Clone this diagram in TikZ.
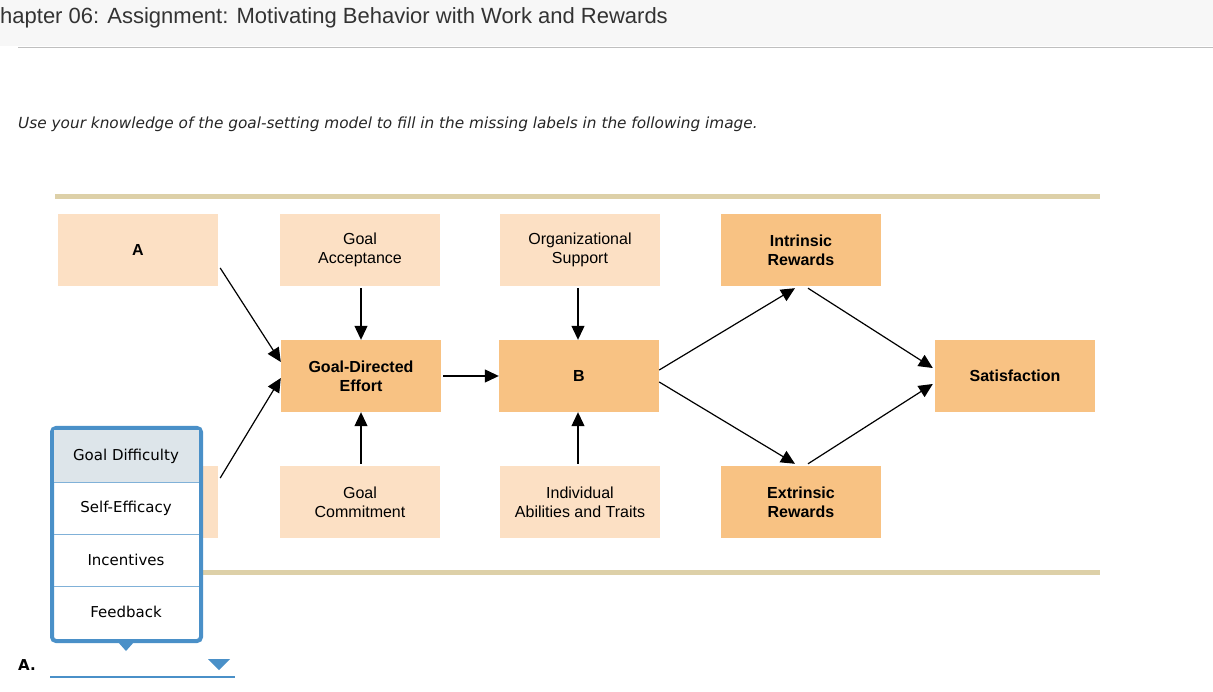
\documentclass[tikz,border=0pt]{standalone}
\usepackage{fontspec}
\setmainfont{Liberation Sans}
\newfontfamily\ver{DejaVu Sans}
\usetikzlibrary{calc,arrows.meta}
\definecolor{lt}{HTML}{FCE0C4}
\definecolor{dk}{HTML}{F8C283}
\definecolor{tan}{HTML}{DDD0A8}
\definecolor{blu}{HTML}{4A90C8}
\definecolor{hil}{HTML}{DDE5EA}
\begin{document}
\begin{tikzpicture}[x=1pt,y=-1pt,
 box/.style={draw=none,minimum width=160pt,minimum height=72pt,inner sep=0pt,align=center,font=\fontsize{16}{19}\selectfont},
 lbox/.style={box,fill=lt},
 dbox/.style={box,fill=dk,font=\fontsize{16}{19}\selectfont\bfseries},
 arr/.style={line width=1.2pt,-{Triangle[length=14pt,width=13pt]}},
 item/.style={font=\ver\fontsize{15}{18}\selectfont}]
\useasboundingbox (0,0) rectangle (1213,692);
\fill[white] (0,0) rectangle (1213,692);
\fill[gray!6] (0,0) rectangle (1213,46);
\draw[gray!50,line width=1pt] (18,48) -- (1213,48);
\node[anchor=west,inner sep=0pt,font=\fontsize{22}{26}\selectfont,text=black!80] (title) at (0,18) {hapter 06: Assignment: Motivating Behavior with Work and Rewards};
\node[anchor=west,inner sep=0pt,font=\ver\itshape\fontsize{15.3}{18}\selectfont,text=black!85] (instr) at (18,124) {Use your knowledge of the goal-setting model to fill in the missing labels in the following image.};
\draw[tan,line width=5pt] (55,197) -- (1100,197);
\draw[tan,line width=5pt] (55,572) -- (1100,572);
\node[lbox,font=\fontsize{16}{19}\selectfont\bfseries] (A) at (138,250) {A};
\node[lbox] (GA) at (360,250) {Goal\\Acceptance};
\node[lbox] (OS) at (580,250) {Organizational\\Support};
\node[dbox] (IR) at (801,250) {Intrinsic\\Rewards};
\node[dbox] (GE) at (361,376) {Goal-Directed\\Effort};
\node[dbox] (B) at (579,376) {B};
\node[dbox] (S) at (1015,376) {Satisfaction};
\node[lbox] (L2) at (138,502) {};
\node[lbox] (GC) at (360,502) {Goal\\Commitment};
\node[lbox] (IA) at (580,502) {Individual\\Abilities and Traits};
\node[dbox] (ER) at (801,502) {Extrinsic\\Rewards};
\draw[arr] ($(A.east)+(2,18)$) -- ($(GE.west)+(0,-14)$);
\draw[arr] ($(L2.east)+(2,-24)$) -- ($(GE.west)+(0,2)$);
\draw[arr] ($(GA.south)+(1,2)$) -- (GE.north);
\draw[arr] ($(GC.north)+(1,-2)$) -- (GE.south);
\draw[arr] ($(GE.east)+(2,0)$) -- (B.west);
\draw[arr] ($(OS.south)+(-2,2)$) -- ($(B.north)+(-1,0)$);
\draw[arr] ($(IA.north)+(-2,-2)$) -- ($(B.south)+(-1,0)$);
\draw[arr] ($(B.east)+(0,-6)$) -- ($(IR.south)+(-6,2)$);
\draw[arr] ($(B.east)+(0,6)$) -- ($(ER.north)+(-6,-2)$);
\draw[arr] ($(IR.south)+(7,2)$) -- ($(S.west)+(-2,-8)$);
\draw[arr] ($(ER.north)+(7,-2)$) -- ($(S.west)+(-2,8)$);
% dropdown
\fill[blu] (118,642) -- (134,642) -- (126,651) -- cycle;
\draw[blu,line width=4pt,rounded corners=4pt,fill=white] (52,428) rectangle (201,641);
\fill[hil] (54,430) rectangle (199,482);
\foreach \yy in {482,534,586} \draw[blu!70,line width=0.8pt] (54,\yy) -- (199,\yy);
\node[item] (i1) at (126,456) {Goal Difficulty};
\node[item] (i2) at (126,508) {Self-Efficacy};
\node[item] (i3) at (126,560) {Incentives};
\node[item] (i4) at (126,612) {Feedback};
\node[anchor=west,inner sep=0pt,font=\ver\bfseries\fontsize{15}{18}\selectfont] (Alab) at (18,665) {A.};
\draw[blu,line width=2pt] (50,677) -- (235,677);
\fill[blu] (208,659) -- (230,659) -- (219,670) -- cycle;
\end{tikzpicture}
\end{document}
